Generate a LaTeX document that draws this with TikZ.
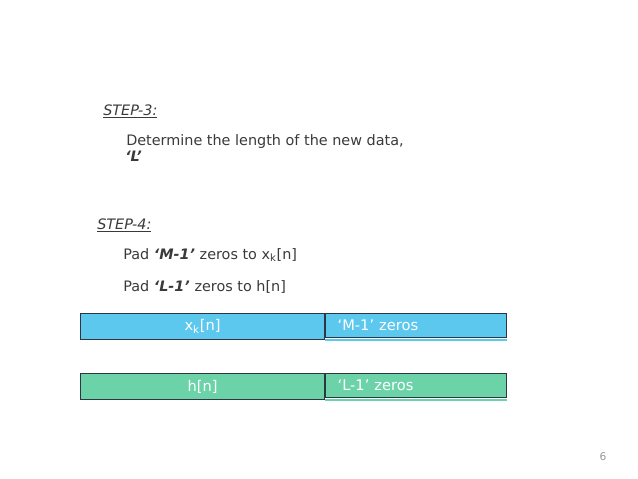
\documentclass[tikz,border=0pt]{standalone}
\usepackage{fontspec}
\setmainfont{DejaVu Sans}
\usetikzlibrary{positioning}
\definecolor{slidetext}{RGB}{58,58,58}
\definecolor{slidenum}{RGB}{150,150,150}
\definecolor{barblue}{RGB}{92,200,238}
\definecolor{bargreen}{RGB}{108,211,168}
\definecolor{baredge}{RGB}{45,55,65}
\tikzset{
  stephead/.style={anchor=base west, inner sep=0pt, text=slidetext,
                   font=\fontsize{10.8}{13}\selectfont\itshape},
  stepline/.style={anchor=base west, inner sep=0pt, text=slidetext,
                   font=\fontsize{10.8}{13}\selectfont},
  databar/.style ={rectangle, draw=baredge, line width=0.8pt, inner sep=0pt,
                   minimum width=183pt, minimum height=19.5pt, anchor=north west,
                   text=white, font=\fontsize{11}{13}\selectfont},
  padbar/.style  ={databar, minimum width=135.75pt, minimum height=18pt,
                   text width=117.75pt, inner xsep=9pt, align=left},
  padedge/.style ={line width=1.6pt},
}
\begin{document}
\begin{tikzpicture}[x=0.75pt, y=-0.75pt]
  \useasboundingbox (0,0) rectangle (638,478);
  % step 3
  \node[stephead] (step3) at (103,115) {\underline{STEP-3:}};
  \node[stepline] (newlen) at (126,145) {Determine the length of the new data,};
  \node[stepline, font=\fontsize{10.8}{13}\selectfont\bfseries\itshape] (lname) at (125,161) {‘L’};
  % step 4
  \node[stephead] (step4) at (97,229) {\underline{STEP-4:}};
  \node[stepline] (padx) at (123,259) {Pad \textbf{\textit{‘M-1’}} zeros to x\textsubscript{k}[n]};
  \node[stepline] (padh) at (123,291) {Pad \textbf{\textit{‘L-1’}} zeros to h[n]};
  % bars
  \node[databar, fill=barblue] (xkbox) at (80,313) {x\textsubscript{k}[n]};
  \node[padbar, fill=barblue] (mzeros) at (xkbox.north east) {‘M-1’ zeros};
  \draw[padedge, barblue] ([yshift=-1.4pt]mzeros.south west) -- ([yshift=-1.4pt]mzeros.south east);
  \node[databar, fill=bargreen] (hbox) at (80,373) {h[n]};
  \node[padbar, fill=bargreen] (lzeros) at (hbox.north east) {‘L-1’ zeros};
  \draw[padedge, bargreen] ([yshift=-1.4pt]lzeros.south west) -- ([yshift=-1.4pt]lzeros.south east);
  % page number
  \node[text=slidenum, font=\fontsize{8}{9}\selectfont, inner sep=0pt] (pagenum) at (603,457) {6};
\end{tikzpicture}
\end{document}
